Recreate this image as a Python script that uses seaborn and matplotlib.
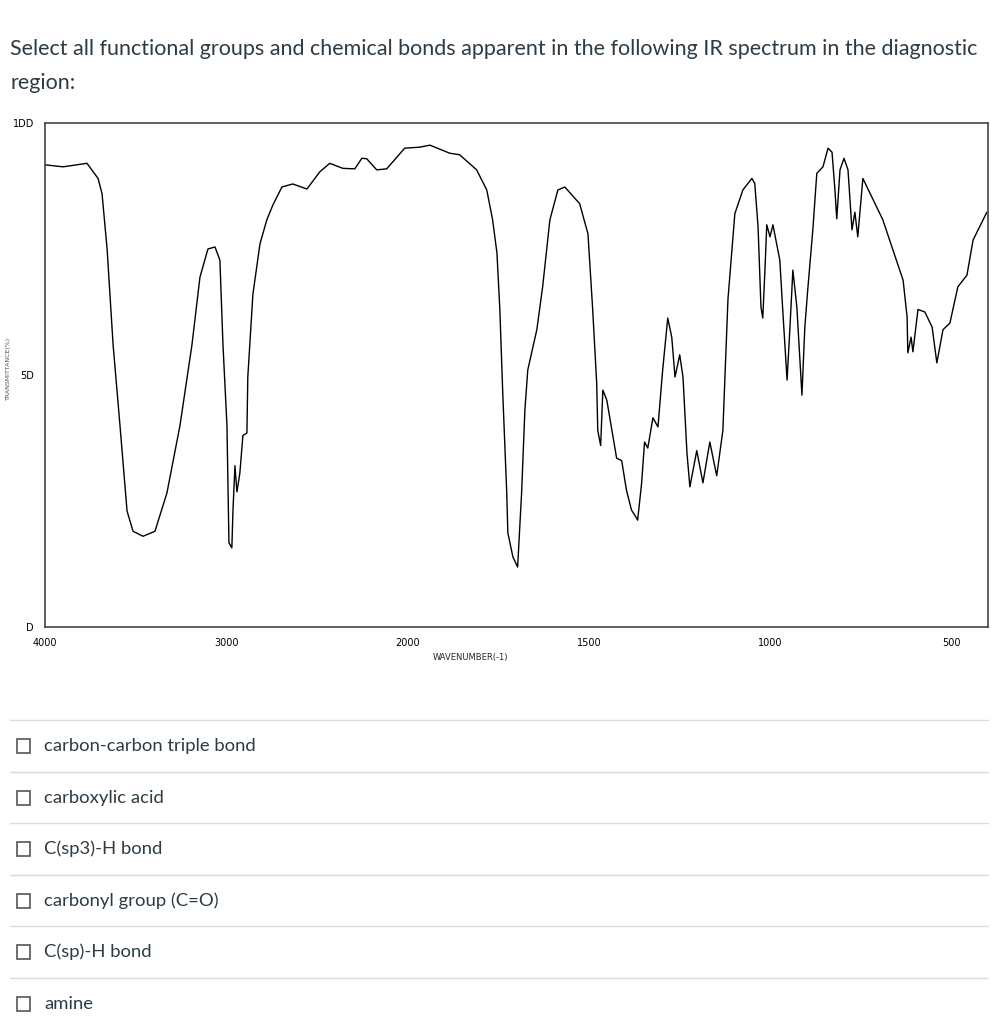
import numpy as np
import pandas as pd
import seaborn as sns
import matplotlib.pyplot as plt
from matplotlib.patches import Rectangle
from matplotlib.lines import Line2D

sns.set_style('white')
plt.rcParams['font.family'] = ['Lato', 'DejaVu Sans']

# spectrum (wavenumber cm-1, % transmittance)
wavenumber = [4000, 3901, 3769, 3708, 3686, 3658, 3625, 3587, 3548, 3515, 3460, 3394, 3328,
              3256, 3190, 3146, 3102, 3063, 3036, 3019, 2997, 2986, 2970, 2964, 2953, 2942,
              2926, 2909, 2887, 2882, 2854, 2815, 2777, 2744, 2694, 2634, 2556, 2485, 2430,
              2358, 2292, 2253, 2226, 2171, 2116, 2017, 1967, 1939, 1884, 1857, 1810, 1782,
              1766, 1754, 1746, 1738, 1727, 1724, 1710, 1697, 1686, 1677, 1669, 1644, 1628,
              1608, 1586, 1567, 1526, 1503, 1490, 1479, 1476, 1468, 1462, 1451, 1424, 1410,
              1397, 1383, 1374, 1366, 1355, 1347, 1338, 1324, 1310, 1297, 1283, 1272, 1263,
              1250, 1241, 1230, 1222, 1203, 1186, 1167, 1148, 1131, 1117, 1098, 1076, 1051,
              1043, 1034, 1026, 1021, 1015, 1010, 1001, 993, 974, 966, 954, 946, 938, 927,
              913, 905, 897, 883, 872, 855, 841, 830, 822, 817, 808, 797, 786, 775, 767, 759,
              745, 690, 634, 623, 621, 612, 607, 593, 574, 554, 541, 524, 505, 483, 458, 441, 403]
transmittance = [91.7, 91.3, 92.0, 89.0, 86.0, 75.0, 56.0, 40.0, 23.0, 19.0, 18.0, 19.0, 26.6,
                 40.0, 56.0, 69.4, 75.0, 75.4, 72.8, 56.0, 40.0, 16.7, 15.7, 23.0, 32.0, 26.8,
                 30.5, 38.0, 38.5, 49.6, 66.0, 76.0, 80.8, 83.7, 87.3, 87.9, 86.9, 90.3, 92.0,
                 91.0, 90.9, 93.0, 92.9, 90.7, 90.9, 95.0, 95.2, 95.6, 94.0, 93.7, 90.7, 86.7,
                 80.8, 74.2, 63.0, 46.4, 26.6, 18.7, 13.9, 11.9, 26.6, 43.0, 51.0, 59.0, 67.5,
                 80.8, 86.7, 87.3, 84.0, 78.0, 63.0, 48.4, 39.0, 36.0, 47.0, 45.0, 33.5, 33.0,
                 27.2, 23.2, 22.2, 21.2, 28.6, 36.7, 35.5, 41.5, 39.7, 51.0, 61.3, 57.5, 49.6,
                 54.0, 49.6, 34.5, 27.8, 35.0, 28.6, 36.7, 30.0, 39.0, 65.0, 82.0, 86.7, 89.0,
                 88.0, 79.4, 63.5, 61.3, 70.8, 79.8, 77.4, 79.8, 72.8, 63.0, 49.0, 59.5, 70.8, 63.5,
                 46.0, 59.5, 66.9, 78.8, 90.0, 91.3, 95.0, 94.2, 86.7, 81.0, 90.7, 93.0, 90.7, 78.8,
                 82.3, 77.4, 89.0, 80.8, 68.8, 61.5, 54.4, 57.5, 54.6, 63.0, 62.5, 59.5, 52.4,
                 59.0, 60.3, 67.5, 69.8, 76.8, 82.3]

x_labels = [4000, 3000, 2000, 1500, 1000, 500]
y_labels = [0, 50, 100]

question = ("Select all functional groups and chemical bonds apparent in the following IR spectrum in the diagnostic\n"
            "region:")
options = ['carbon-carbon triple bond', 'carboxylic acid', 'C(sp3)-H bond',
           'carbonyl group (C=O)', 'C(sp)-H bond', 'amine']

df = pd.DataFrame({'wn': wavenumber, 'T': transmittance})


# old spectrometer chart: scale doubles below 2000 cm-1
def fwd(w):
    w = np.asarray(w, dtype=float)
    return np.where(w >= 2000, w, 2000 + (w - 2000) * 2)


def inv(u):
    u = np.asarray(u, dtype=float)
    return np.where(u >= 2000, u, 2000 + (u - 2000) / 2)


fig = plt.figure(figsize=(10.02, 10.24), dpi=100)
ax = fig.add_axes([0.045, 0.3877, 0.941, 0.4922])
sns.lineplot(data=df, x='wn', y='T', sort=False, estimator=None, color='black', lw=1.0, ax=ax)
ax.set_xscale('function', functions=(fwd, inv))
ax.set_xlim(4000, 400)
ax.set_ylim(0, 100)
ax.set_xticks(x_labels)
ax.set_xticks(np.arange(400, 4001, 100), minor=True)
ax.set_yticks(y_labels)
ax.set_yticks(np.arange(0, 101, 10), minor=True)
ax.set_xticklabels([str(v) for v in x_labels], fontsize=7, family='DejaVu Sans')
ax.set_yticklabels(['D', '5D', '1DD'], fontsize=7, family='DejaVu Sans')
ax.tick_params(axis='both', which='major', direction='out', length=6, width=1, colors='black', pad=2)
ax.tick_params(axis='both', which='minor', direction='in', length=3, width=1, colors='black')
for s in ax.spines.values():
    s.set_color('#444444')
    s.set_linewidth(1.2)
ax.set_xlabel('')
ax.set_ylabel('')
ax.set_facecolor('white')
fig.text(0.47, 0.358, 'WAVENUMBER(-1)', fontsize=6, family='DejaVu Sans', ha='center', va='center')
fig.text(0.008, 0.64, 'TRANSMITTANCE(%)', fontsize=4.5, family='DejaVu Sans', rotation=90,
         ha='center', va='center', color='#555555')

fig.text(0.01, 0.962, question, fontsize=15.5, color='#2d3b45', va='top', ha='left', linespacing=1.85)

sep_y = [720, 772, 823, 875, 926, 978]
for i, opt in enumerate(options):
    yl = 1 - sep_y[i] / 1024
    fig.add_artist(Line2D([0.01, 0.986], [yl, yl], color='#d8dbdf', lw=1))
    yc = 1 - (sep_y[i] + 26) / 1024
    fig.add_artist(Rectangle((0.0165, yc - 0.0068), 0.0135, 0.0137, fill=False,
                             edgecolor='#555555', lw=1.2, transform=fig.transFigure))
    fig.text(0.044, yc, opt, fontsize=13.3, color='#2d3b45', va='center', ha='left')

fig.savefig('out.png', dpi=100, facecolor='white')
